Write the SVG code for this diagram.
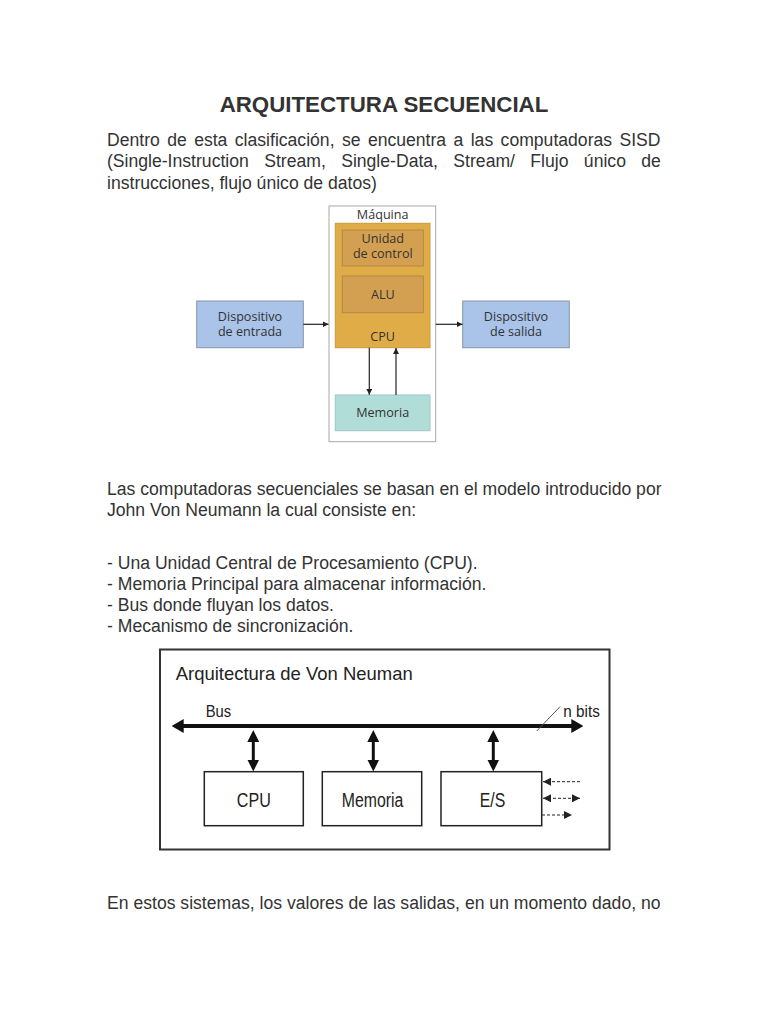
<svg xmlns="http://www.w3.org/2000/svg" width="768" height="1024" viewBox="0 0 768 1024">
<style>
.body{font-family:"Liberation Sans",Arial,sans-serif;font-size:17.6px;fill:#333}
.title{font-family:"Liberation Sans",Arial,sans-serif;font-size:22.3px;font-weight:bold;fill:#333}
.d1{font-family:"Open Sans","Noto Sans",sans-serif;font-size:12.6px;fill:#333;text-anchor:middle}
.vn{font-family:"Liberation Sans",Arial,sans-serif;fill:#222}
.thin{stroke:#222;stroke-width:1.2;fill:none}
.dash{stroke:#222;stroke-width:1;stroke-dasharray:3,2;fill:none}
.vbox{fill:#fff;stroke:#222;stroke-width:1.5}
</style>
<defs>
<marker id="ah" markerUnits="userSpaceOnUse" markerWidth="6" markerHeight="6" refX="6" refY="3" orient="auto"><path d="M0,0 L6,3 L0,6 z" fill="#222"/></marker>
<marker id="bh" markerUnits="userSpaceOnUse" markerWidth="12" markerHeight="14" refX="4" refY="7" orient="auto-start-reverse"><path d="M0,0 L12,7 L0,14 z" fill="#111"/></marker>
<marker id="vh" markerUnits="userSpaceOnUse" markerWidth="12" markerHeight="12" refX="4" refY="6" orient="auto-start-reverse"><path d="M0,0 L12,6 L0,12 z" fill="#111"/></marker>
<marker id="dh" markerUnits="userSpaceOnUse" markerWidth="8" markerHeight="8" refX="8" refY="4" orient="auto-start-reverse"><path d="M0,0 L8,4 L0,8 z" fill="#222"/></marker>
</defs>
<rect width="768" height="1024" fill="#fff"/>

<text class="title" x="384" y="112" text-anchor="middle">ARQUITECTURA SECUENCIAL</text>
<text class="body" x="107" y="145.7" word-spacing="2.5">Dentro de esta clasificación, se encuentra a las computadoras SISD</text>
<text class="body" x="107" y="167.4" word-spacing="10.5">(Single-Instruction Stream, Single-Data, Stream/ Flujo único de</text>
<text class="body" x="107" y="188.8">instrucciones, flujo único de datos)</text>

<g id="maquina">
<rect x="329" y="206" width="106.7" height="235.7" fill="#fff" stroke="#a8a8a8" stroke-width="1"/>
<text class="d1" x="382.7" y="218.5" font-size="12.2">Máquina</text>
</g>
<g id="cpu">
<rect x="335.3" y="223.3" width="94.7" height="124.4" fill="#DFAC48" stroke="#C99A3C" stroke-width="1"/>
<text class="d1" x="382.7" y="340.5">CPU</text>
</g>
<g id="unidad-control">
<rect x="342.3" y="230" width="81" height="36" fill="#D3A052" stroke="#B48541" stroke-width="1"/>
<text class="d1" x="382.8" y="243.2"><tspan x="382.8">Unidad</tspan><tspan x="382.8" dy="15.2">de control</tspan></text>
</g>
<g id="alu">
<rect x="342.3" y="276" width="81" height="36.7" fill="#D3A052" stroke="#B48541" stroke-width="1"/>
<text class="d1" x="382.8" y="299.3">ALU</text>
</g>
<g id="entrada">
<rect x="196.7" y="301" width="106.6" height="46.7" fill="#A9C4E8" stroke="#8494A8" stroke-width="1"/>
<text class="d1" x="250" y="321"><tspan x="250">Dispositivo</tspan><tspan x="250" dy="15.2">de entrada</tspan></text>
</g>
<g id="salida">
<rect x="462.7" y="301" width="106.6" height="46.7" fill="#A9C4E8" stroke="#8494A8" stroke-width="1"/>
<text class="d1" x="516" y="321"><tspan x="516">Dispositivo</tspan><tspan x="516" dy="15.2">de salida</tspan></text>
</g>
<g id="memoria1">
<rect x="335.3" y="395" width="94.7" height="35.7" fill="#B1DDD9" stroke="#9CC6C3" stroke-width="1"/>
<text class="d1" x="382.7" y="417.3">Memoria</text>
</g>
<g id="connectors1">
<line class="thin" x1="303.3" y1="324.3" x2="328.5" y2="324.3" marker-end="url(#ah)"/>
<line class="thin" x1="435.7" y1="324.3" x2="462.5" y2="324.3" marker-end="url(#ah)"/>
<line class="thin" x1="369.3" y1="347.7" x2="369.3" y2="394.8" marker-end="url(#ah)"/>
<line class="thin" x1="396" y1="395" x2="396" y2="348" marker-end="url(#ah)"/>
</g>

<text class="body" x="107" y="494.5">Las computadoras secuenciales se basan en el modelo introducido por</text>
<text class="body" x="107" y="515.5">John Von Neumann la cual consiste en:</text>
<text class="body" x="107" y="568.5">- Una Unidad Central de Procesamiento (CPU).</text>
<text class="body" x="107" y="589.5">- Memoria Principal para almacenar información.</text>
<text class="body" x="107" y="610.5">- Bus donde fluyan los datos.</text>
<text class="body" x="107" y="631.5">- Mecanismo de sincronización.</text>

<g id="vonneuman">
<rect x="160" y="649.5" width="449.5" height="200" fill="#fff" stroke="#333" stroke-width="2"/>
<text class="vn" x="175.7" y="680" font-size="19" textLength="237" lengthAdjust="spacingAndGlyphs">Arquitectura de Von Neuman</text>
<text class="vn" x="205.7" y="716.7" font-size="16.5" textLength="25.5" lengthAdjust="spacingAndGlyphs">Bus</text>
<text class="vn" x="563.3" y="716.7" font-size="16.5" textLength="36.5" lengthAdjust="spacingAndGlyphs">n bits</text>
</g>
<g id="vn-cpu">
<rect class="vbox" x="204.3" y="771.7" width="99" height="54"/>
<text class="vn" x="253.8" y="807.3" font-size="20" text-anchor="middle" textLength="34" lengthAdjust="spacingAndGlyphs">CPU</text>
</g>
<g id="vn-memoria">
<rect class="vbox" x="322.3" y="771.7" width="99.4" height="54"/>
<text class="vn" x="372.5" y="807.3" font-size="20" text-anchor="middle" textLength="61.5" lengthAdjust="spacingAndGlyphs">Memoria</text>
</g>
<g id="vn-es">
<rect class="vbox" x="441" y="771.7" width="100.7" height="54"/>
<text class="vn" x="492.5" y="807.3" font-size="20" text-anchor="middle" textLength="25.5" lengthAdjust="spacingAndGlyphs">E/S</text>
</g>
<g id="connectors2">
<line x1="179.7" y1="726" x2="575.3" y2="726" stroke="#111" stroke-width="4" marker-start="url(#bh)" marker-end="url(#bh)"/>
<line x1="536.7" y1="731" x2="560" y2="706.7" stroke="#555" stroke-width="1"/>
<line x1="253.3" y1="738" x2="253.3" y2="763.5" stroke="#111" stroke-width="3" marker-start="url(#vh)" marker-end="url(#vh)"/>
<line x1="373.3" y1="738" x2="373.3" y2="763.5" stroke="#111" stroke-width="3" marker-start="url(#vh)" marker-end="url(#vh)"/>
<line x1="493.3" y1="738" x2="493.3" y2="763.5" stroke="#111" stroke-width="3" marker-start="url(#vh)" marker-end="url(#vh)"/>
<line class="dash" x1="580" y1="781.7" x2="543" y2="781.7" marker-end="url(#dh)"/>
<line class="dash" x1="543" y1="798.3" x2="580" y2="798.3" marker-start="url(#dh)" marker-end="url(#dh)"/>
<line class="dash" x1="542" y1="815" x2="572" y2="815" marker-end="url(#dh)"/>
</g>

<text class="body" x="107" y="909">En estos sistemas, los valores de las salidas, en un momento dado, no</text>
</svg>
